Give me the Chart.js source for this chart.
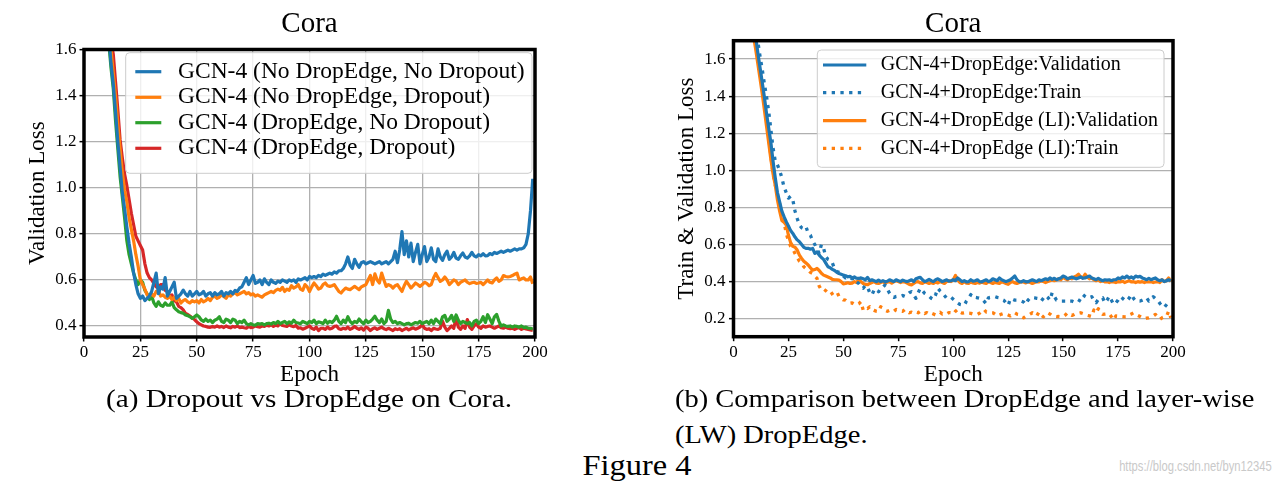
<!DOCTYPE html>
<html>
<head>
<meta charset="utf-8">
<script src="https://cdn.jsdelivr.net/npm/chart.js@4.4.0/dist/chart.umd.min.js"></script>
<style>
  html, body { margin: 0; padding: 0; background: #fff; }
  body { width: 1273px; height: 486px; position: relative; overflow: hidden; font-family: "Liberation Serif", "Times New Roman", serif; color: #000; }
  .panel { position: absolute; top: 0; height: 395px; }
  #left { left: 0; width: 560px; }
  #right { left: 640px; width: 633px; }
  .cap { position: absolute; white-space: nowrap; font-size: 26px; line-height: 26px; }
  #capA { left: 309px; top: 386px; transform: translateX(-50%) scaleX(1.125); transform-origin: center top; }
  #capB1 { left: 675px; top: 386px; transform: scaleX(1.096); transform-origin: left top; }
  #capB2 { left: 675px; top: 422px; transform: scaleX(1.096); transform-origin: left top; }
  #fig { left: 637px; top: 451px; font-size: 28.7px; line-height: 28.7px; transform: translateX(-50%) scaleX(1.13); transform-origin: center top; }
  #mark { right: 1px; top: 459px; font-family: "Liberation Sans", Arial, sans-serif; font-size: 14px; line-height: 14px; color: #c9c9c9; transform: scaleX(0.8); transform-origin: right top; }
</style>
</head>
<body>
<div class="panel" id="left"><canvas id="chartA"></canvas></div>
<div class="panel" id="right"><canvas id="chartB"></canvas></div>
<div class="cap" id="capA">(a) Dropout vs DropEdge on Cora.</div>
<div class="cap" id="capB1">(b) Comparison between DropEdge and layer-wise</div>
<div class="cap" id="capB2">(LW) DropEdge.</div>
<div class="cap" id="fig">Figure 4</div>
<div class="cap" id="mark">https://blog.csdn.net/byn12345</div>
<script>
// epochs 0..199 on the x axis
const epochs = Array.from({ length: 200 }, (_, i) => i);
const xTicks = [0, 25, 50, 75, 100, 125, 150, 175, 200];
const yTicksA = [0.4, 0.6, 0.8, 1.0, 1.2, 1.4, 1.6];
const yTicksB = [0.2, 0.4, 0.6, 0.8, 1.0, 1.2, 1.4, 1.6];

const labelsA = [
  'GCN-4 (No DropEdge, No Dropout)',
  'GCN-4 (No DropEdge, Dropout)',
  'GCN-4 (DropEdge, No Dropout)',
  'GCN-4 (DropEdge, Dropout)'
];
const labelsB = [
  'GCN-4+DropEdge:Validation',
  'GCN-4+DropEdge:Train',
  'GCN-4+DropEdge (LI):Validation',
  'GCN-4+DropEdge (LI):Train'
];

// (a) validation loss
const noEdgeNoDrop = [
  2.55, 2.45, 2.36, 2.28, 2.20, 2.12, 2.05, 1.98, 1.91, 1.85,
  1.78, 1.66, 1.54, 1.45, 1.33, 1.20, 1.09, 0.98, 0.91, 0.83,
  0.76, 0.70, 0.63, 0.58, 0.54, 0.52, 0.53, 0.51, 0.52, 0.53,
  0.55, 0.59, 0.63, 0.54, 0.57, 0.56, 0.61, 0.53, 0.55, 0.57,
  0.59, 0.52, 0.53, 0.54, 0.556, 0.54, 0.53, 0.55, 0.53, 0.54,
  0.55, 0.535, 0.54, 0.55, 0.53, 0.54, 0.545, 0.53, 0.545, 0.535,
  0.54, 0.55, 0.53, 0.545, 0.54, 0.55, 0.54, 0.555, 0.55, 0.565,
  0.57, 0.59, 0.61, 0.58, 0.60, 0.62, 0.585, 0.59, 0.60, 0.58,
  0.605, 0.59, 0.58, 0.60, 0.59, 0.585, 0.595, 0.59, 0.60, 0.595,
  0.59, 0.60, 0.595, 0.60, 0.59, 0.605, 0.60, 0.605, 0.61, 0.60,
  0.615, 0.61, 0.615, 0.61, 0.62, 0.615, 0.625, 0.62, 0.625, 0.63,
  0.625, 0.635, 0.63, 0.64, 0.64, 0.65, 0.67, 0.70, 0.665, 0.65,
  0.69, 0.67, 0.655, 0.675, 0.68, 0.67, 0.675, 0.68, 0.675, 0.67,
  0.675, 0.68, 0.67, 0.675, 0.68, 0.67, 0.68, 0.69, 0.725, 0.675,
  0.73, 0.81, 0.71, 0.77, 0.70, 0.76, 0.68, 0.72, 0.755, 0.67,
  0.71, 0.745, 0.68, 0.70, 0.74, 0.69, 0.68, 0.735, 0.70, 0.685,
  0.71, 0.725, 0.69, 0.70, 0.72, 0.695, 0.69, 0.705, 0.717, 0.70,
  0.695, 0.705, 0.72, 0.705, 0.70, 0.71, 0.705, 0.714, 0.705, 0.706,
  0.715, 0.71, 0.72, 0.715, 0.72, 0.725, 0.72, 0.725, 0.73, 0.725,
  0.73, 0.735, 0.73, 0.735, 0.735, 0.74, 0.755, 0.80, 0.90, 1.04
];
const noEdgeDrop = [
  2.60, 2.45, 2.32, 2.20, 2.10, 2.00, 1.92, 1.84, 1.77, 1.72,
  1.70, 1.66, 1.60, 1.50, 1.40, 1.28, 1.17, 1.07, 0.99, 0.94,
  0.87, 0.82, 0.77, 0.71, 0.66, 0.60, 0.58, 0.56, 0.535, 0.53,
  0.54, 0.53, 0.55, 0.555, 0.53, 0.535, 0.525, 0.52, 0.53, 0.515,
  0.525, 0.51, 0.52, 0.50, 0.51, 0.515, 0.505, 0.50, 0.51, 0.505,
  0.51, 0.50, 0.515, 0.505, 0.51, 0.52, 0.51, 0.525, 0.53, 0.52,
  0.525, 0.535, 0.528, 0.52, 0.535, 0.53, 0.54, 0.545, 0.535, 0.54,
  0.545, 0.55, 0.54, 0.545, 0.535, 0.54, 0.53, 0.535, 0.53, 0.525,
  0.535, 0.54, 0.545, 0.55, 0.545, 0.555, 0.56, 0.555, 0.568, 0.55,
  0.56, 0.555, 0.575, 0.565, 0.57, 0.58, 0.56, 0.555, 0.58, 0.57,
  0.55, 0.57, 0.587, 0.575, 0.56, 0.565, 0.58, 0.587, 0.575, 0.572,
  0.575, 0.58, 0.565, 0.55, 0.543, 0.555, 0.565, 0.56, 0.558, 0.565,
  0.572, 0.565, 0.558, 0.57, 0.575, 0.58, 0.60, 0.62, 0.58, 0.627,
  0.60, 0.587, 0.63, 0.60, 0.572, 0.58, 0.575, 0.565, 0.575, 0.58,
  0.565, 0.55, 0.575, 0.594, 0.58, 0.565, 0.575, 0.587, 0.58, 0.572,
  0.58, 0.59, 0.585, 0.575, 0.58, 0.609, 0.628, 0.61, 0.594, 0.60,
  0.613, 0.60, 0.58, 0.59, 0.60, 0.595, 0.58, 0.59, 0.595, 0.60,
  0.59, 0.584, 0.588, 0.59, 0.585, 0.587, 0.59, 0.58, 0.59, 0.60,
  0.59, 0.587, 0.60, 0.609, 0.594, 0.60, 0.619, 0.615, 0.613, 0.615,
  0.619, 0.625, 0.63, 0.60, 0.605, 0.609, 0.60, 0.60, 0.613, 0.584
];
const edgeNoDrop = [
  2.55, 2.40, 2.28, 2.16, 2.06, 1.97, 1.89, 1.81, 1.74, 1.69,
  1.66, 1.63, 1.52, 1.43, 1.29, 1.17, 1.05, 0.96, 0.87, 0.77,
  0.71, 0.67, 0.63, 0.60, 0.58, 0.60, 0.59, 0.555, 0.54, 0.515,
  0.53, 0.50, 0.485, 0.505, 0.49, 0.485, 0.50, 0.49, 0.49, 0.505,
  0.48, 0.47, 0.462, 0.458, 0.455, 0.448, 0.445, 0.44, 0.433, 0.44,
  0.448, 0.44, 0.426, 0.42, 0.43, 0.42, 0.425, 0.415, 0.425, 0.43,
  0.44, 0.42, 0.415, 0.43, 0.425, 0.415, 0.43, 0.425, 0.41, 0.42,
  0.415, 0.425, 0.41, 0.405, 0.41, 0.405, 0.404, 0.41, 0.408, 0.41,
  0.405, 0.41, 0.412, 0.408, 0.415, 0.41, 0.42, 0.41, 0.415, 0.42,
  0.41, 0.418, 0.412, 0.425, 0.415, 0.413, 0.41, 0.42, 0.415, 0.41,
  0.42, 0.415, 0.425, 0.41, 0.418, 0.415, 0.41, 0.425, 0.412, 0.42,
  0.415, 0.425, 0.442, 0.42, 0.41, 0.425, 0.415, 0.44, 0.42, 0.41,
  0.42, 0.415, 0.43, 0.418, 0.41, 0.425, 0.415, 0.42, 0.43, 0.442,
  0.425, 0.415, 0.43, 0.41, 0.42, 0.468, 0.43, 0.415, 0.42, 0.41,
  0.415, 0.41, 0.405, 0.41, 0.412, 0.405, 0.41, 0.415, 0.412, 0.42,
  0.41, 0.415, 0.42, 0.41, 0.425, 0.41, 0.43, 0.42, 0.41, 0.44,
  0.446, 0.42, 0.43, 0.446, 0.42, 0.448, 0.425, 0.41, 0.42, 0.415,
  0.41, 0.415, 0.40, 0.42, 0.425, 0.41, 0.42, 0.44, 0.415, 0.449,
  0.43, 0.41, 0.44, 0.45, 0.42, 0.40, 0.405, 0.40, 0.398, 0.40,
  0.395, 0.40, 0.398, 0.395, 0.40, 0.393, 0.395, 0.39, 0.39, 0.387
];
const edgeDrop = [
  2.70, 2.55, 2.42, 2.30, 2.18, 2.08, 1.98, 1.90, 1.82, 1.76,
  1.72, 1.68, 1.64, 1.58, 1.46, 1.34, 1.21, 1.13, 1.06, 1.01,
  0.95, 0.89, 0.84, 0.79, 0.77, 0.75, 0.73, 0.67, 0.63, 0.61,
  0.60, 0.585, 0.57, 0.565, 0.58, 0.58, 0.555, 0.55, 0.53, 0.535,
  0.51, 0.505, 0.485, 0.48, 0.47, 0.455, 0.45, 0.443, 0.435, 0.428,
  0.418, 0.41, 0.405, 0.40, 0.398, 0.395, 0.394, 0.397, 0.395, 0.40,
  0.395, 0.398, 0.393, 0.40, 0.395, 0.392, 0.398, 0.395, 0.40, 0.393,
  0.395, 0.392, 0.39, 0.398, 0.393, 0.395, 0.40, 0.397, 0.395, 0.40,
  0.398, 0.403, 0.40, 0.405, 0.398, 0.404, 0.40, 0.41, 0.402, 0.40,
  0.398, 0.405, 0.40, 0.397, 0.402, 0.39, 0.392, 0.386, 0.39, 0.395,
  0.40, 0.39, 0.385, 0.395, 0.38, 0.39, 0.39, 0.385, 0.395, 0.387,
  0.39, 0.398, 0.40, 0.388, 0.385, 0.39, 0.387, 0.395, 0.385, 0.39,
  0.398, 0.39, 0.385, 0.392, 0.382, 0.395, 0.39, 0.38, 0.388, 0.392,
  0.385, 0.39, 0.395, 0.388, 0.384, 0.39, 0.385, 0.38, 0.388, 0.384,
  0.388, 0.38, 0.385, 0.39, 0.383, 0.388, 0.392, 0.386, 0.39, 0.395,
  0.406, 0.39, 0.385, 0.388, 0.38, 0.39, 0.387, 0.385, 0.39, 0.42,
  0.395, 0.38, 0.39, 0.40, 0.39, 0.438, 0.395, 0.385, 0.40, 0.39,
  0.428, 0.395, 0.385, 0.40, 0.41, 0.395, 0.39, 0.40, 0.395, 0.398,
  0.40, 0.395, 0.39, 0.395, 0.40, 0.392, 0.39, 0.395, 0.39, 0.388,
  0.39, 0.385, 0.39, 0.392, 0.385, 0.39, 0.387, 0.385, 0.383, 0.381
];

// (b) train & validation loss
const edgeVal = [
  2.60, 2.50, 2.40, 2.30, 2.20, 2.10, 2.00, 1.92, 1.84, 1.77,
  1.73, 1.64, 1.56, 1.48, 1.40, 1.31, 1.23, 1.15, 1.05, 0.96,
  0.88, 0.83, 0.78, 0.75, 0.723, 0.70, 0.675, 0.66, 0.64, 0.625,
  0.615, 0.60, 0.585, 0.579, 0.58, 0.575, 0.579, 0.552, 0.56, 0.543,
  0.53, 0.52, 0.50, 0.48, 0.475, 0.466, 0.46, 0.45, 0.444, 0.44,
  0.435, 0.432, 0.426, 0.428, 0.42, 0.425, 0.418, 0.417, 0.42, 0.415,
  0.41, 0.423, 0.405, 0.41, 0.405, 0.40, 0.408, 0.40, 0.405, 0.40,
  0.402, 0.41, 0.405, 0.40, 0.41, 0.405, 0.40, 0.408, 0.403, 0.40,
  0.405, 0.41, 0.40, 0.415, 0.42, 0.423, 0.41, 0.40, 0.405, 0.412,
  0.405, 0.40, 0.41, 0.415, 0.408, 0.40, 0.405, 0.41, 0.402, 0.405,
  0.41, 0.405, 0.42, 0.41, 0.40, 0.405, 0.398, 0.40, 0.41, 0.402,
  0.405, 0.41, 0.40, 0.398, 0.405, 0.41, 0.40, 0.405, 0.415, 0.41,
  0.405, 0.42, 0.41, 0.405, 0.40, 0.405, 0.41, 0.42, 0.43, 0.41,
  0.40, 0.398, 0.405, 0.40, 0.398, 0.405, 0.41, 0.405, 0.40, 0.41,
  0.405, 0.41, 0.415, 0.41, 0.42, 0.412, 0.418, 0.41, 0.415, 0.42,
  0.43, 0.425, 0.415, 0.42, 0.425, 0.42, 0.415, 0.42, 0.425, 0.418,
  0.42, 0.425, 0.43, 0.42, 0.415, 0.41, 0.418, 0.41, 0.405, 0.41,
  0.408, 0.41, 0.405, 0.41, 0.41, 0.42, 0.415, 0.425, 0.42, 0.43,
  0.42, 0.425, 0.418, 0.43, 0.425, 0.428, 0.42, 0.415, 0.41, 0.418,
  0.41, 0.415, 0.42, 0.41, 0.405, 0.41, 0.40, 0.405, 0.41, 0.405
];
const edgeTrain = [
  2.70, 2.60, 2.50, 2.40, 2.30, 2.20, 2.10, 2.00, 1.92, 1.84,
  1.77, 1.70, 1.62, 1.55, 1.47, 1.40, 1.32, 1.22, 1.12, 1.05,
  1.03, 1.00, 0.96, 0.91, 0.88, 0.85, 0.86, 0.84, 0.78, 0.74,
  0.705, 0.69, 0.685, 0.696, 0.66, 0.65, 0.62, 0.60, 0.575, 0.552,
  0.60, 0.58, 0.534, 0.52, 0.515, 0.50, 0.47, 0.455, 0.45, 0.444,
  0.43, 0.42, 0.425, 0.42, 0.415, 0.42, 0.40, 0.39, 0.373, 0.364,
  0.38, 0.37, 0.34, 0.328, 0.355, 0.36, 0.345, 0.364, 0.37, 0.382,
  0.36, 0.337, 0.32, 0.315, 0.32, 0.322, 0.32, 0.325, 0.32, 0.33,
  0.34, 0.346, 0.33, 0.31, 0.34, 0.364, 0.35, 0.337, 0.33, 0.322,
  0.31, 0.304, 0.33, 0.364, 0.35, 0.34, 0.325, 0.31, 0.312, 0.315,
  0.305, 0.295, 0.285, 0.277, 0.275, 0.272, 0.295, 0.31, 0.33, 0.313,
  0.315, 0.313, 0.31, 0.308, 0.295, 0.281, 0.313, 0.315, 0.318, 0.319,
  0.315, 0.313, 0.305, 0.30, 0.285, 0.272, 0.308, 0.305, 0.30, 0.30,
  0.298, 0.295, 0.29, 0.277, 0.30, 0.313, 0.315, 0.313, 0.31, 0.308,
  0.295, 0.31, 0.325, 0.315, 0.30, 0.34, 0.32, 0.30, 0.298, 0.295,
  0.295, 0.295, 0.30, 0.295, 0.295, 0.29, 0.292, 0.29, 0.31, 0.33,
  0.32, 0.313, 0.313, 0.319, 0.30, 0.286, 0.304, 0.31, 0.313, 0.286,
  0.30, 0.322, 0.30, 0.277, 0.286, 0.30, 0.319, 0.31, 0.30, 0.295,
  0.31, 0.33, 0.31, 0.295, 0.295, 0.295, 0.30, 0.305, 0.313, 0.295,
  0.305, 0.319, 0.308, 0.30, 0.283, 0.27, 0.26, 0.275, 0.29, 0.286
];
const liVal = [
  2.50, 2.40, 2.30, 2.20, 2.10, 2.00, 1.92, 1.85, 1.79, 1.73,
  1.66, 1.58, 1.50, 1.42, 1.33, 1.24, 1.15, 1.06, 0.98, 0.92,
  0.84, 0.78, 0.73, 0.72, 0.705, 0.65, 0.61, 0.59, 0.585, 0.57,
  0.543, 0.525, 0.51, 0.50, 0.49, 0.475, 0.462, 0.465, 0.471, 0.46,
  0.445, 0.435, 0.43, 0.425, 0.42, 0.412, 0.41, 0.41, 0.408, 0.40,
  0.388, 0.39, 0.394, 0.39, 0.392, 0.40, 0.395, 0.412, 0.40, 0.39,
  0.385, 0.383, 0.39, 0.395, 0.40, 0.392, 0.39, 0.395, 0.40, 0.392,
  0.398, 0.40, 0.392, 0.40, 0.405, 0.40, 0.395, 0.40, 0.398, 0.392,
  0.385, 0.382, 0.39, 0.398, 0.40, 0.393, 0.39, 0.398, 0.395, 0.39,
  0.395, 0.39, 0.398, 0.393, 0.40, 0.395, 0.39, 0.40, 0.405, 0.40,
  0.41, 0.433, 0.41, 0.395, 0.39, 0.40, 0.392, 0.39, 0.398, 0.393,
  0.39, 0.395, 0.392, 0.398, 0.393, 0.39, 0.40, 0.395, 0.39, 0.396,
  0.393, 0.39, 0.398, 0.395, 0.39, 0.385, 0.395, 0.40, 0.393, 0.39,
  0.395, 0.40, 0.398, 0.393, 0.40, 0.395, 0.39, 0.395, 0.40, 0.398,
  0.405, 0.40, 0.395, 0.40, 0.405, 0.41, 0.405, 0.41, 0.415, 0.41,
  0.425, 0.415, 0.41, 0.42, 0.415, 0.425, 0.43, 0.44, 0.425, 0.42,
  0.44, 0.425, 0.415, 0.42, 0.41, 0.405, 0.41, 0.40, 0.405, 0.398,
  0.40, 0.395, 0.40, 0.398, 0.395, 0.40, 0.398, 0.403, 0.395, 0.40,
  0.405, 0.398, 0.40, 0.395, 0.40, 0.397, 0.40, 0.395, 0.40, 0.398,
  0.40, 0.395, 0.398, 0.40, 0.395, 0.41, 0.40, 0.405, 0.42, 0.40
];
const liTrain = [
  2.55, 2.45, 2.35, 2.25, 2.15, 2.05, 1.96, 1.88, 1.81, 1.74,
  1.69, 1.62, 1.54, 1.46, 1.38, 1.28, 1.18, 1.08, 0.98, 0.92,
  0.87, 0.82, 0.77, 0.72, 0.66, 0.62, 0.59, 0.575, 0.552, 0.53,
  0.51, 0.50, 0.48, 0.47, 0.462, 0.45, 0.444, 0.43, 0.417, 0.376,
  0.355, 0.36, 0.351, 0.34, 0.328, 0.337, 0.345, 0.346, 0.32, 0.31,
  0.301, 0.30, 0.29, 0.283, 0.285, 0.278, 0.274, 0.28, 0.292, 0.247,
  0.26, 0.255, 0.265, 0.25, 0.245, 0.24, 0.238, 0.265, 0.255, 0.245,
  0.24, 0.245, 0.238, 0.24, 0.25, 0.245, 0.243, 0.24, 0.25, 0.24,
  0.232, 0.235, 0.229, 0.235, 0.232, 0.24, 0.235, 0.228, 0.233, 0.225,
  0.23, 0.225, 0.22, 0.23, 0.235, 0.225, 0.23, 0.226, 0.233, 0.232,
  0.225, 0.24, 0.25, 0.236, 0.23, 0.232, 0.235, 0.23, 0.229, 0.225,
  0.223, 0.223, 0.23, 0.24, 0.25, 0.236, 0.236, 0.232, 0.232, 0.225,
  0.215, 0.22, 0.225, 0.229, 0.225, 0.22, 0.215, 0.225, 0.232, 0.225,
  0.223, 0.21, 0.205, 0.212, 0.218, 0.225, 0.232, 0.222, 0.215, 0.236,
  0.22, 0.21, 0.222, 0.232, 0.225, 0.215, 0.213, 0.211, 0.212, 0.211,
  0.211, 0.22, 0.232, 0.225, 0.218, 0.223, 0.229, 0.229, 0.232, 0.228,
  0.223, 0.218, 0.215, 0.211, 0.247, 0.232, 0.254, 0.235, 0.223, 0.225,
  0.227, 0.227, 0.21, 0.193, 0.215, 0.213, 0.212, 0.211, 0.21, 0.211,
  0.22, 0.225, 0.232, 0.225, 0.218, 0.212, 0.205, 0.20, 0.203, 0.205,
  0.21, 0.215, 0.223, 0.21, 0.197, 0.205, 0.21, 0.211, 0.24, 0.205
];

const BLUE = '#1f77b4', ORANGE = '#ff7f0e', GREEN = '#2ca02c', RED = '#d62728';
const DOTS = [3.3, 5.4];

Chart.defaults.font.family = '"Liberation Serif", "Times New Roman", serif';
Chart.defaults.color = '#000';

// black box round the plot area, like matplotlib spines
const frame = {
  id: 'frame',
  afterDatasetsDraw(chart) {
    const { ctx, chartArea: a } = chart;
    ctx.save();
    ctx.strokeStyle = '#000';
    ctx.lineWidth = 3.5;
    ctx.strokeRect(a.left, a.top, a.right - a.left, a.bottom - a.top);
    ctx.restore();
  }
};

// legend drawn inside the axes with a translucent rounded box
const boxLegend = {
  id: 'boxLegend',
  afterDraw(chart, args, opts) {
    const { ctx } = chart;
    const b = opts.box;
    ctx.save();
    ctx.beginPath();
    if (ctx.roundRect) ctx.roundRect(b.x, b.y, b.w, b.h, 4);
    else ctx.rect(b.x, b.y, b.w, b.h);
    ctx.fillStyle = 'rgba(255,255,255,0.8)';
    ctx.fill();
    ctx.strokeStyle = '#cccccc';
    ctx.lineWidth = 1;
    ctx.stroke();
    ctx.font = opts.font;
    ctx.textBaseline = 'middle';
    chart.data.datasets.forEach((ds, i) => {
      const y = opts.rows[i];
      ctx.beginPath();
      ctx.setLineDash(ds.borderDash || []);
      ctx.strokeStyle = ds.borderColor;
      ctx.lineWidth = ds.borderWidth;
      ctx.moveTo(opts.handle[0], y);
      ctx.lineTo(opts.handle[1], y);
      ctx.stroke();
      ctx.setLineDash([]);
      ctx.fillStyle = '#000';
      ctx.fillText(ds.label, opts.textX, y);
    });
    ctx.restore();
  }
};

function line(label, data, color, dash) {
  return {
    label, data,
    borderColor: color,
    backgroundColor: color,
    borderWidth: dash ? 3.3 : 3.2,
    borderDash: dash || [],
    borderJoinStyle: 'round',
    pointRadius: 0,
    tension: 0,
    fill: false
  };
}

function makeOptions(cfg) {
  return {
    responsive: true,
    maintainAspectRatio: false,
    animation: false,
    layout: { padding: { left: 0, right: cfg.padRight, top: 0, bottom: 0 } },
    plugins: {
      legend: { display: false },
      tooltip: { enabled: false },
      title: {
        display: true, text: 'Cora', fullSize: false,
        font: { size: 29, weight: 'normal', lineHeight: 1.0 },
        padding: { top: 10, bottom: cfg.titleBottom }
      },
      boxLegend: cfg.legend
    },
    scales: {
      x: {
        type: 'linear', min: 0, max: 200,
        afterBuildTicks: s => { s.ticks = xTicks.map(v => ({ value: v })); },
        afterFit: s => { s.height = cfg.xHeight; },
        ticks: { font: { size: 17 }, padding: 1, maxRotation: 0, callback: v => String(v) },
        grid: {
          color: '#b0b0b0', lineWidth: 1.3, drawOnChartArea: cfg.xGrid,
          tickColor: '#000', tickLength: 4.5, tickWidth: 1.5
        },
        border: { display: false },
        title: { display: true, text: 'Epoch', font: { size: 23 }, padding: { top: 0, bottom: 6.3 } }
      },
      y: {
        min: cfg.yMin, max: cfg.yMax,
        afterBuildTicks: s => { s.ticks = cfg.yTicks.map(v => ({ value: v })); },
        afterFit: s => { s.width = cfg.yWidth; },
        ticks: { font: { size: 17 }, padding: cfg.yPad, callback: v => v.toFixed(1) },
        grid: {
          color: '#b0b0b0', lineWidth: 1.3,
          tickColor: '#000', tickLength: 4.5, tickWidth: 1.5
        },
        border: { display: false },
        title: { display: true, text: cfg.yTitle, font: { size: 23 }, padding: { top: cfg.yTitlePad, bottom: 0 } }
      }
    }
  };
}

new Chart(document.getElementById('chartA'), {
  type: 'line',
  data: {
    labels: epochs,
    datasets: [
      line(labelsA[0], noEdgeNoDrop, BLUE),
      line(labelsA[1], noEdgeDrop, ORANGE),
      line(labelsA[2], edgeNoDrop, GREEN),
      line(labelsA[3], edgeDrop, RED)
    ]
  },
  options: makeOptions({
    padRight: 25, titleBottom: 10.5, xHeight: 58, yWidth: 84, yPad: 3,
    yMin: 0.352, yMax: 1.602, yTicks: yTicksA, xGrid: true,
    yTitle: 'Validation Loss', yTitlePad: 23.9,
    legend: {
      box: { x: 125.7, y: 52.7, w: 406.3, h: 120.6 },
      rows: [71.7, 97.3, 122.7, 148.3],
      handle: [135.3, 161.3], textX: 178,
      font: '23.5px "Liberation Serif", "Times New Roman", serif'
    }
  }),
  plugins: [frame, boxLegend]
});

new Chart(document.getElementById('chartB'), {
  type: 'line',
  data: {
    labels: epochs,
    datasets: [
      line(labelsB[0], edgeVal, BLUE),
      line(labelsB[1], edgeTrain, BLUE, DOTS),
      line(labelsB[2], liVal, ORANGE),
      line(labelsB[3], liTrain, ORANGE, DOTS)
    ]
  },
  options: makeOptions({
    padRight: 100, titleBottom: 1.7, xHeight: 58.3, yWidth: 93.5, yPad: 3.6,
    yMin: 0.103, yMax: 1.699, yTicks: yTicksB, xGrid: false,
    yTitle: 'Train & Validation Loss', yTitlePad: 33.1,
    legend: {
      box: { x: 177.3, y: 50, w: 346.7, h: 117.3 },
      rows: [65, 92.7, 120.7, 148.3],
      handle: [183, 226.3], textX: 240.7,
      font: '20px "Liberation Serif", "Times New Roman", serif'
    }
  }),
  plugins: [frame, boxLegend]
});
</script>
</body>
</html>
